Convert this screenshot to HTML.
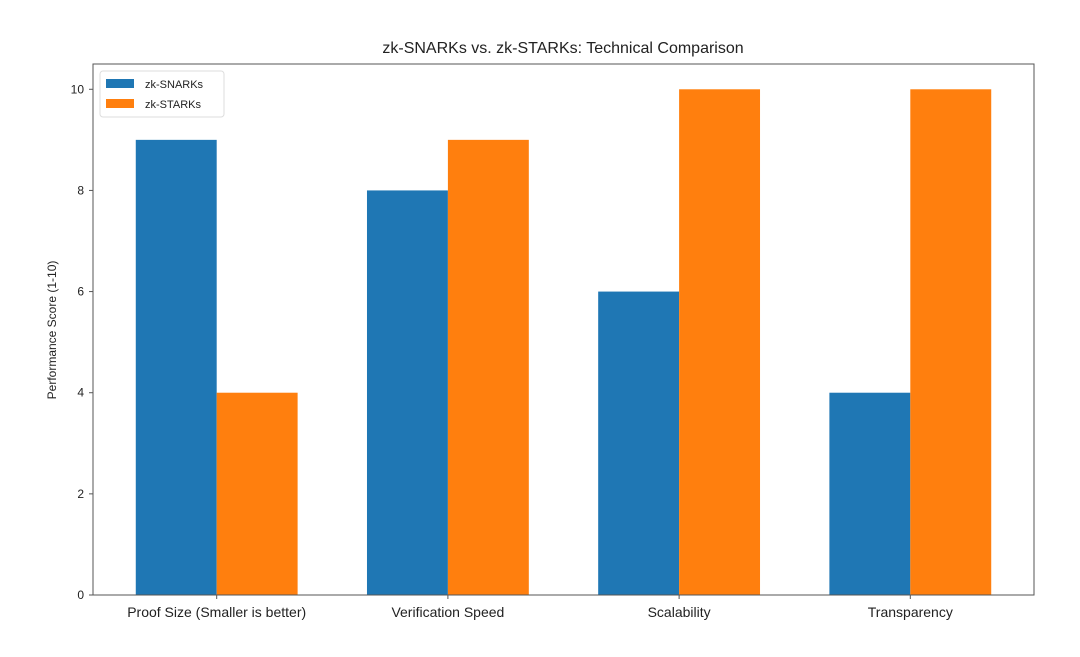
<!DOCTYPE html>
<html><head><meta charset="utf-8"><style>
body{margin:0;background:#fff;}
svg text{font-family:"Liberation Sans",sans-serif;fill:#222;}
</style></head><body>
<svg id="chart" width="1080" height="652">
<text x="563" y="53" font-size="16" text-anchor="middle">zk-SNARKs vs. zk-STARKs: Technical Comparison</text>
<text transform="translate(56,330) rotate(-90)" font-size="12" text-anchor="middle">Performance Score (1-10)</text>
<g id="bars"></g>
<g id="axes"></g>
</svg>
<script>
const categories=["Proof Size (Smaller is better)","Verification Speed","Scalability","Transparency"];
const snarks=[9,8,6,4];
const starks=[4,9,10,10];
const yTicks=[0,2,4,6,8,10];
const seriesNames=["zk-SNARKs","zk-STARKs"];
const colors=["#1f77b4","#ff7f0e"];
const L=93,R=1034,T=64,B=595,ymax=10.5;
const y=v=>B-(v/ymax)*(B-T);
const step=(R-L)/(categories.length-1+2*0.535);
const xc=i=>L+step*(0.535+i);
const bw=0.35*step;
const NS="http://www.w3.org/2000/svg";
function mk(tag,attrs,parent,text){const e=document.createElementNS(NS,tag);for(const k in attrs)e.setAttribute(k,attrs[k]);if(text!==undefined)e.textContent=text;parent.appendChild(e);return e;}
const bars=document.getElementById('bars'),axes=document.getElementById('axes');
[snarks,starks].forEach((s,si)=>s.forEach((v,i)=>{
  const r=mk('rect',{x:xc(i)+(si?0:-bw),y:y(v),width:bw,height:B-y(v),fill:colors[si]},bars);
  
  
}));
const frame=mk('rect',{x:L,y:T,width:R-L,height:B-T,fill:'none',stroke:'#555','stroke-width':1},axes);


yTicks.forEach(t=>{
  mk('line',{x1:L-4,x2:L,y1:y(t),y2:y(t),stroke:'#555'},axes);
  const tx=mk('text',{x:L-9,y:y(t)+4,'font-size':12,'text-anchor':'end'},axes,t);
  
  
});
categories.forEach((c,i)=>{
  mk('line',{x1:xc(i),x2:xc(i),y1:B,y2:B+4,stroke:'#555'},axes);
  const tx=mk('text',{x:xc(i),y:B+22,'font-size':14,'text-anchor':'middle'},axes,c);
  
  
});
const lg=mk('g',{},axes);


mk('rect',{x:100,y:71,width:124,height:46,rx:3,fill:'#fff',stroke:'#ddd'},lg);
seriesNames.forEach((n,i)=>{
  const g=mk('g',{},lg);
  
  
  mk('rect',{x:106,y:79+i*20,width:28,height:9,fill:colors[i]},g);
  mk('text',{x:145,y:88+i*20,'font-size':11},g,n);
});
</script>
</body></html>
